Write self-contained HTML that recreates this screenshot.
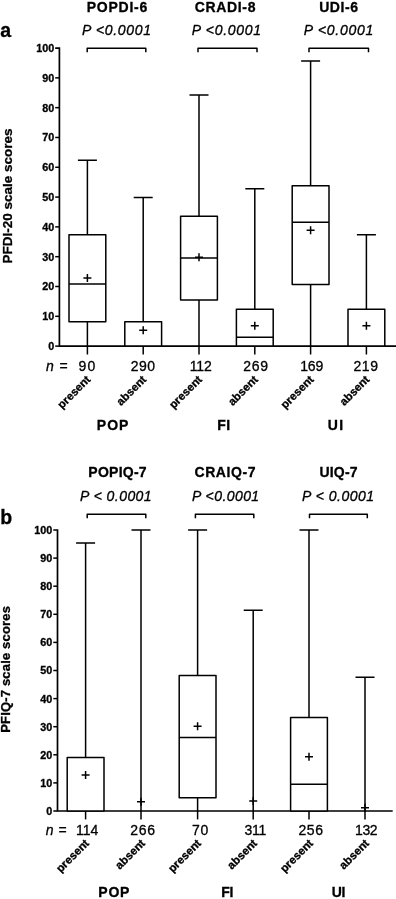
<!DOCTYPE html>
<html><head><meta charset="utf-8"><title>Box plots</title>
<style>
html,body{margin:0;padding:0;background:#fff;}
svg{display:block;font-family:"Liberation Sans",Arial,sans-serif;fill:#000;}
text{stroke:#000;stroke-width:0.3;}
.ax{fill:none;stroke:#000;stroke-width:1.7;}
.ln{fill:none;stroke:#000;stroke-width:1.5;}
.pl{fill:none;stroke:#000;stroke-width:1.5;}
.bx{fill:#fff;stroke:#000;stroke-width:1.5;stroke-linejoin:round;}
.tk{font-size:10.8px;font-weight:bold;}
</style></head><body>
<svg width="396" height="899" viewBox="0 0 396 899">
<rect width="396" height="899" fill="#fff"/>
<path d="M55.2 48.05H59.4M59.4 47.35V346.1H396" class="ax"/>
<path d="M55.2 346.1H59.4" class="ln"/>
<text x="54.2" y="350" class="tk" text-anchor="end">0</text>
<path d="M55.2 316.3H59.4" class="ln"/>
<text x="54.2" y="320.19" class="tk" text-anchor="end">10</text>
<path d="M55.2 286.49H59.4" class="ln"/>
<text x="54.2" y="290.39" class="tk" text-anchor="end">20</text>
<path d="M55.2 256.69H59.4" class="ln"/>
<text x="54.2" y="260.58" class="tk" text-anchor="end">30</text>
<path d="M55.2 226.88H59.4" class="ln"/>
<text x="54.2" y="230.78" class="tk" text-anchor="end">40</text>
<path d="M55.2 197.08H59.4" class="ln"/>
<text x="54.2" y="200.98" class="tk" text-anchor="end">50</text>
<path d="M55.2 167.27H59.4" class="ln"/>
<text x="54.2" y="171.17" class="tk" text-anchor="end">60</text>
<path d="M55.2 137.47H59.4" class="ln"/>
<text x="54.2" y="141.37" class="tk" text-anchor="end">70</text>
<path d="M55.2 107.66H59.4" class="ln"/>
<text x="54.2" y="111.56" class="tk" text-anchor="end">80</text>
<path d="M55.2 77.86H59.4" class="ln"/>
<text x="54.2" y="81.76" class="tk" text-anchor="end">90</text>
<text x="54.2" y="51.95" class="tk" text-anchor="end">100</text>
<path d="M87.4 346.1V354.5" class="ln"/>
<path d="M143.2 346.1V354.5" class="ln"/>
<path d="M199 346.1V354.5" class="ln"/>
<path d="M254.8 346.1V354.5" class="ln"/>
<path d="M310.6 346.1V354.5" class="ln"/>
<path d="M366.4 346.1V354.5" class="ln"/>
<path d="M77.9 160.32H96.9M87.4 160.32V234.83" class="ln"/>
<rect x="69" y="234.83" width="36.8" height="87.03" class="bx"/>
<path d="M69 284.01H105.8" class="ln"/>
<path d="M87.4 321.86V346.1" class="ln"/>
<path d="M83.4 278.05H91.4M87.4 274.05V282.05" class="pl"/>
<path d="M133.7 197.58H152.7M143.2 197.58V321.86" class="ln"/>
<rect x="124.8" y="321.86" width="36.8" height="24.24" class="bx"/>
<path d="M139.2 330.21H147.2M143.2 326.21V334.21" class="pl"/>
<path d="M189.5 95.05H208.5M199 95.05V216.35" class="ln"/>
<rect x="180.6" y="216.35" width="36.8" height="83.75" class="bx"/>
<path d="M180.6 258.08H217.4" class="ln"/>
<path d="M199 300.1V346.1" class="ln"/>
<path d="M195 257.19H203M199 253.19V261.19" class="pl"/>
<path d="M245.3 188.63H264.3M254.8 188.63V309.34" class="ln"/>
<rect x="236.4" y="309.34" width="36.8" height="36.76" class="bx"/>
<path d="M236.4 337.36H273.2" class="ln"/>
<path d="M250.8 325.74H258.8M254.8 321.74V329.74" class="pl"/>
<path d="M301.1 61.07H320.1M310.6 61.07V185.65" class="ln"/>
<rect x="292.2" y="185.65" width="36.8" height="98.95" class="bx"/>
<path d="M292.2 222.31H329" class="ln"/>
<path d="M310.6 284.61V346.1" class="ln"/>
<path d="M306.6 230.36H314.6M310.6 226.36V234.36" class="pl"/>
<path d="M356.9 234.83H375.9M366.4 234.83V309.34" class="ln"/>
<rect x="348" y="309.34" width="36.8" height="36.76" class="bx"/>
<path d="M362.4 325.74H370.4M366.4 321.74V329.74" class="pl"/>
<path d="M87.2 52.2V48.3H145.8V52.2" class="ln" stroke-linejoin="round"/>
<path d="M198 52.2V48.3H257V52.2" class="ln" stroke-linejoin="round"/>
<path d="M309 52.2V48.3H368.5V52.2" class="ln" stroke-linejoin="round"/>
<text x="86.76" y="12" font-size="14" font-weight="bold" letter-spacing="0.75" >POPDI-6</text>
<text x="194.63" y="12" font-size="14" font-weight="bold" letter-spacing="0.67" >CRADI-8</text>
<text x="319.16" y="12" font-size="14" font-weight="bold" letter-spacing="0.55" >UDI-6</text>
<text x="81.97" y="34.7" font-size="14" font-style="italic" letter-spacing="0.66" >P &lt;0.0001</text>
<text x="191.67" y="34.7" font-size="14" font-style="italic" letter-spacing="0.7" >P &lt;0.0001</text>
<text x="303.87" y="34.7" font-size="14" font-style="italic" letter-spacing="0.7" >P &lt;0.0001</text>
<text x="96.86" y="430.2" font-size="14" font-weight="bold" letter-spacing="0.97" >POP</text>
<text x="217.26" y="430.2" font-size="14" font-weight="bold" letter-spacing="0.33" >FI</text>
<text x="327.66" y="430.2" font-size="14" font-weight="bold" letter-spacing="1.48" >UI</text>
<text x="46.07" y="370.7" font-size="14" font-style="italic" letter-spacing="0" >n</text>
<text x="59.52" y="370.7" font-size="14"  letter-spacing="0" >=</text>
<text x="78.44" y="370.7" font-size="14"  letter-spacing="1.33" >90</text>
<text x="130.7" y="370.7" font-size="14"  letter-spacing="0.55" >290</text>
<text x="189.63" y="370.7" font-size="14"  letter-spacing="-0.04" >112</text>
<text x="243.2" y="370.7" font-size="14"  letter-spacing="0.75" >269</text>
<text x="300.13" y="370.7" font-size="14"  letter-spacing="-0.06" >169</text>
<text x="353.4" y="370.7" font-size="14"  letter-spacing="0.6" >219</text>
<text transform="translate(91.2 380.2) rotate(-45)" font-size="11.4" font-weight="bold" text-anchor="end" letter-spacing="0">present</text>
<text transform="translate(147 380.2) rotate(-45)" font-size="11.4" font-weight="bold" text-anchor="end" letter-spacing="0">absent</text>
<text transform="translate(202.8 380.2) rotate(-45)" font-size="11.4" font-weight="bold" text-anchor="end" letter-spacing="0">present</text>
<text transform="translate(258.6 380.2) rotate(-45)" font-size="11.4" font-weight="bold" text-anchor="end" letter-spacing="0">absent</text>
<text transform="translate(314.4 380.2) rotate(-45)" font-size="11.4" font-weight="bold" text-anchor="end" letter-spacing="0">present</text>
<text transform="translate(370.2 380.2) rotate(-45)" font-size="11.4" font-weight="bold" text-anchor="end" letter-spacing="0">absent</text>
<text transform="translate(12.3 263.4) rotate(-90)" font-size="13.5" font-weight="bold" letter-spacing="-0.01">PFDI-20 scale scores</text>
<text x="0.3" y="37.4" font-size="19.5" font-weight="bold">a</text>
<path d="M53.3 530H57.5M57.5 529.3V811H392.7" class="ax"/>
<path d="M53.3 811H57.5" class="ln"/>
<text x="52.3" y="814.9" class="tk" text-anchor="end">0</text>
<path d="M53.3 782.9H57.5" class="ln"/>
<text x="52.3" y="786.8" class="tk" text-anchor="end">10</text>
<path d="M53.3 754.8H57.5" class="ln"/>
<text x="52.3" y="758.7" class="tk" text-anchor="end">20</text>
<path d="M53.3 726.7H57.5" class="ln"/>
<text x="52.3" y="730.6" class="tk" text-anchor="end">30</text>
<path d="M53.3 698.6H57.5" class="ln"/>
<text x="52.3" y="702.5" class="tk" text-anchor="end">40</text>
<path d="M53.3 670.5H57.5" class="ln"/>
<text x="52.3" y="674.4" class="tk" text-anchor="end">50</text>
<path d="M53.3 642.4H57.5" class="ln"/>
<text x="52.3" y="646.3" class="tk" text-anchor="end">60</text>
<path d="M53.3 614.3H57.5" class="ln"/>
<text x="52.3" y="618.2" class="tk" text-anchor="end">70</text>
<path d="M53.3 586.2H57.5" class="ln"/>
<text x="52.3" y="590.1" class="tk" text-anchor="end">80</text>
<path d="M53.3 558.1H57.5" class="ln"/>
<text x="52.3" y="562" class="tk" text-anchor="end">90</text>
<text x="52.3" y="533.9" class="tk" text-anchor="end">100</text>
<path d="M85.6 811V819.4" class="ln"/>
<path d="M141 811V819.4" class="ln"/>
<path d="M197.6 811V819.4" class="ln"/>
<path d="M253.2 811V819.4" class="ln"/>
<path d="M309 811V819.4" class="ln"/>
<path d="M365 811V819.4" class="ln"/>
<path d="M76.1 542.93H95.1M85.6 542.93V757.61" class="ln"/>
<rect x="67.2" y="757.61" width="36.8" height="53.39" class="bx"/>
<path d="M81.6 775.03H89.6M85.6 771.03V779.03" class="pl"/>
<path d="M131.5 530H150.5M141 530V811" class="ln"/>
<path d="M141 811V811" class="ln"/>
<path d="M137 801.73H145M141 797.73V805.73" class="pl"/>
<path d="M188.1 530H207.1M197.6 530V675.56" class="ln"/>
<rect x="179.2" y="675.56" width="36.8" height="122.24" class="bx"/>
<path d="M179.2 737.38H216" class="ln"/>
<path d="M197.6 797.79V811" class="ln"/>
<path d="M193.6 726.14H201.6M197.6 722.14V730.14" class="pl"/>
<path d="M243.7 610.37H262.7M253.2 610.37V811" class="ln"/>
<path d="M253.2 811V811" class="ln"/>
<path d="M249.2 800.88H257.2M253.2 796.88V804.88" class="pl"/>
<path d="M299.5 530H318.5M309 530V717.43" class="ln"/>
<rect x="290.6" y="717.43" width="36.8" height="93.57" class="bx"/>
<path d="M290.6 784.3H327.4" class="ln"/>
<path d="M305 756.77H313M309 752.77V760.77" class="pl"/>
<path d="M355.5 677.24H374.5M365 677.24V811" class="ln"/>
<path d="M365 811V811" class="ln"/>
<path d="M361 807.63H369M365 803.63V811.63" class="pl"/>
<path d="M87.2 518.2V514.3H145.8V518.2" class="ln" stroke-linejoin="round"/>
<path d="M195.4 518.2V514.3H253.8V518.2" class="ln" stroke-linejoin="round"/>
<path d="M309.5 518.2V514.3H367.3V518.2" class="ln" stroke-linejoin="round"/>
<text x="88.36" y="477.4" font-size="14" font-weight="bold" letter-spacing="0.24" >POPIQ-7</text>
<text x="194.43" y="477.4" font-size="14" font-weight="bold" letter-spacing="0.61" >CRAIQ-7</text>
<text x="319.46" y="477.4" font-size="14" font-weight="bold" letter-spacing="0.2" >UIQ-7</text>
<text x="80.07" y="500.8" font-size="14" font-style="italic" letter-spacing="0.44" >P &lt; 0.0001</text>
<text x="192.07" y="500.8" font-size="14" font-style="italic" letter-spacing="0.42" >P &lt;0.0001</text>
<text x="302.07" y="500.8" font-size="14" font-style="italic" letter-spacing="0.5" >P &lt; 0.0001</text>
<text x="98.36" y="896.7" font-size="14" font-weight="bold" letter-spacing="0.72" >POP</text>
<text x="221.26" y="896.7" font-size="14" font-weight="bold" letter-spacing="-0.27" >FI</text>
<text x="331.66" y="896.7" font-size="14" font-weight="bold" letter-spacing="-0.22" >UI</text>
<text x="45.87" y="834.6" font-size="14" font-style="italic" letter-spacing="0" >n</text>
<text x="58.62" y="834.6" font-size="14"  letter-spacing="0" >=</text>
<text x="75.93" y="834.6" font-size="14"  letter-spacing="0.06" >114</text>
<text x="130.3" y="834.6" font-size="14"  letter-spacing="0.63" >266</text>
<text x="192.08" y="834.6" font-size="14"  letter-spacing="0.69" >70</text>
<text x="244.47" y="834.6" font-size="14"  letter-spacing="-0.27" >311</text>
<text x="298.4" y="834.6" font-size="14"  letter-spacing="0.68" >256</text>
<text x="355.03" y="834.6" font-size="14"  letter-spacing="-0.39" >132</text>
<text transform="translate(89.8 844) rotate(-45)" font-size="11.4" font-weight="bold" text-anchor="end" letter-spacing="0">present</text>
<text transform="translate(145.8 844) rotate(-45)" font-size="11.4" font-weight="bold" text-anchor="end" letter-spacing="0">absent</text>
<text transform="translate(201.8 844) rotate(-45)" font-size="11.4" font-weight="bold" text-anchor="end" letter-spacing="0">present</text>
<text transform="translate(257.8 844) rotate(-45)" font-size="11.4" font-weight="bold" text-anchor="end" letter-spacing="0">absent</text>
<text transform="translate(313.8 844) rotate(-45)" font-size="11.4" font-weight="bold" text-anchor="end" letter-spacing="0">present</text>
<text transform="translate(369.8 844) rotate(-45)" font-size="11.4" font-weight="bold" text-anchor="end" letter-spacing="0">absent</text>
<text transform="translate(10.4 732.77) rotate(-90)" font-size="13" font-weight="bold" letter-spacing="0.17">PFIQ-7 scale scores</text>
<text x="0.2" y="524" font-size="19.5" font-weight="bold">b</text>
</svg>
</body></html>
